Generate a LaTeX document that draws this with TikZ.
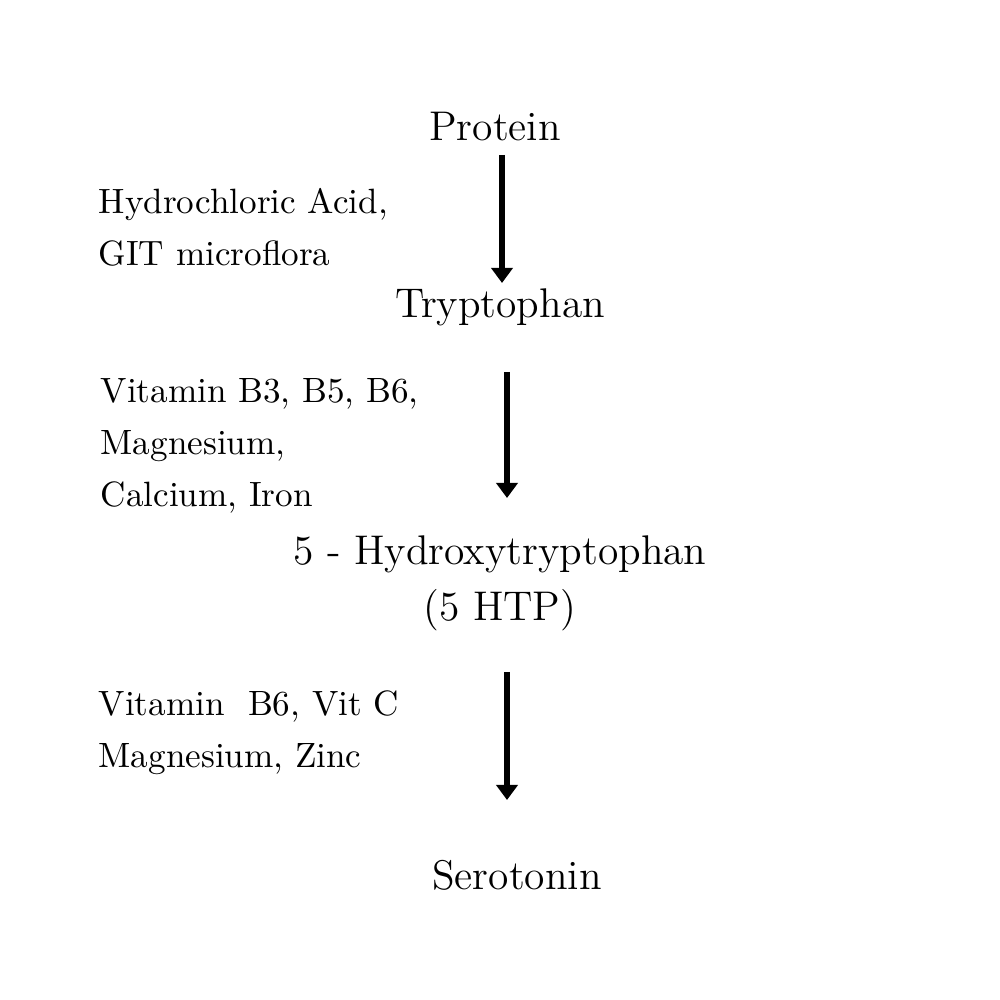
\documentclass[tikz,border=0pt]{standalone}
\usepackage{tikz}
\usetikzlibrary{arrows.meta}

\begin{document}
\begin{tikzpicture}[
  step label/.style={font=\fontsize{11.8}{14}\selectfont, align=center},
  cofactor/.style={font=\fontsize{10}{14.8}\selectfont, align=left, anchor=north west, inner sep=0pt},
  pathway/.style={line width=1.5pt, -{Triangle[length=1.5mm,width=2.1mm]}}
]
% Page frame
\useasboundingbox (0,0) rectangle (10,10);

% Steps of the pathway
\node [step label] (protein) at (4.95,8.73) {Protein};
\node [step label] (trypto) at (5.00,6.93) {Tryptophan};
\node [step label] (htp) at (5.00,4.17) {5 - Hydroxytryptophan\\[2pt](5 HTP)};
\node [step label] (sero) at (5.17,1.25) {Serotonin};

% Cofactors on the left
\node [cofactor] (c1) at (0.98,8.12) {Hydrochloric Acid,\\GIT microflora};
\node [cofactor] (c2) at (1.00,6.22) {Vitamin B3, B5, B6,\\Magnesium,\\Calcium, Iron};
\node [cofactor] (c3) at (0.98,3.10) {Vitamin~~B6, Vit C\\Magnesium, Zinc};

% Arrow ends
\coordinate (a1) at (5.02,8.45);
\coordinate (b1) at (5.02,7.17);
\coordinate (a2) at (5.07,6.28);
\coordinate (b2) at (5.07,5.02);
\coordinate (a3) at (5.07,3.28);
\coordinate (b3) at (5.07,2.00);

% Arrows
\draw [pathway] (a1) -- (b1);
\draw [pathway] (a2) -- (b2);
\draw [pathway] (a3) -- (b3);
\end{tikzpicture}
\end{document}
